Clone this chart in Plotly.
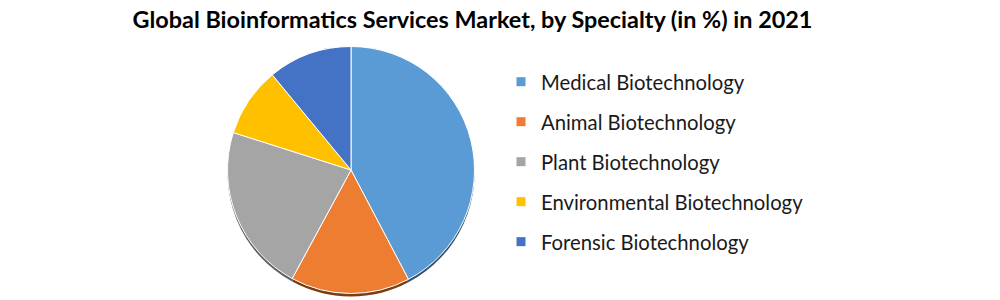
import plotly.graph_objects as go

title = "Global Bioinformatics Services Market, by Specialty (in %) in 2021"
categories = ["Medical Biotechnology", "Animal Biotechnology", "Plant Biotechnology",
              "Environmental Biotechnology", "Forensic Biotechnology"]
shares = [42.3, 15.6, 22.0, 9.1, 11.0]
colors = ["#5B9BD5", "#ED7D31", "#A5A5A5", "#FFC000", "#4472C4"]
shadow_colors = ["#2F5170", "#7A3D14", "#5E5E5E", "#7F6000", "#24406F"]

W, H = 1000, 300
cx, cy, r = 351, 170, 123.5
shadow_dy = 3

fig = go.Figure()
# shadow pie (slightly offset downward)
fig.add_trace(go.Pie(
    values=shares, labels=categories, sort=False, direction="clockwise", rotation=0,
    marker=dict(colors=shadow_colors, line=dict(width=0)),
    textinfo="none", hoverinfo="skip", showlegend=False,
    domain=dict(x=[(cx - r) / W, (cx + r) / W],
                y=[(H - (cy + r + shadow_dy)) / H, (H - (cy - r + shadow_dy)) / H]),
))
fig.add_trace(go.Pie(
    values=shares, labels=categories, sort=False, direction="clockwise", rotation=0,
    marker=dict(colors=colors, line=dict(color="white", width=1)),
    textinfo="none", showlegend=False,
    domain=dict(x=[(cx - r) / W, (cx + r) / W],
                y=[(H - (cy + r)) / H, (H - (cy - r)) / H]),
))
# legend entries
for i, (cat, col) in enumerate(zip(categories, colors)):
    fig.add_trace(go.Scatter(
        x=[None], y=[None], mode="markers", name=cat, legendgroup=f"g{i}",
        marker=dict(symbol="square", size=9, color=col),
    ))

fig.update_layout(
    width=W, height=H,
    margin=dict(l=0, r=0, t=0, b=0),
    paper_bgcolor="white", plot_bgcolor="white",
    xaxis=dict(visible=False), yaxis=dict(visible=False),
    title=dict(text="<b>" + title + "</b>", x=0.4725, xanchor="center",
               y=1 - 20 / H, yanchor="middle",
               font=dict(family="Lato", size=23.4, color="black")),
    legend=dict(x=501 / W, xanchor="left", y=1 - 62 / H, yanchor="top",
                font=dict(family="Lato", size=20.3, color="#1a1a1a"),
                tracegroupgap=10.6, itemwidth=30, bgcolor="rgba(0,0,0,0)"),
    showlegend=True,
)
fig.write_html("out.html")
